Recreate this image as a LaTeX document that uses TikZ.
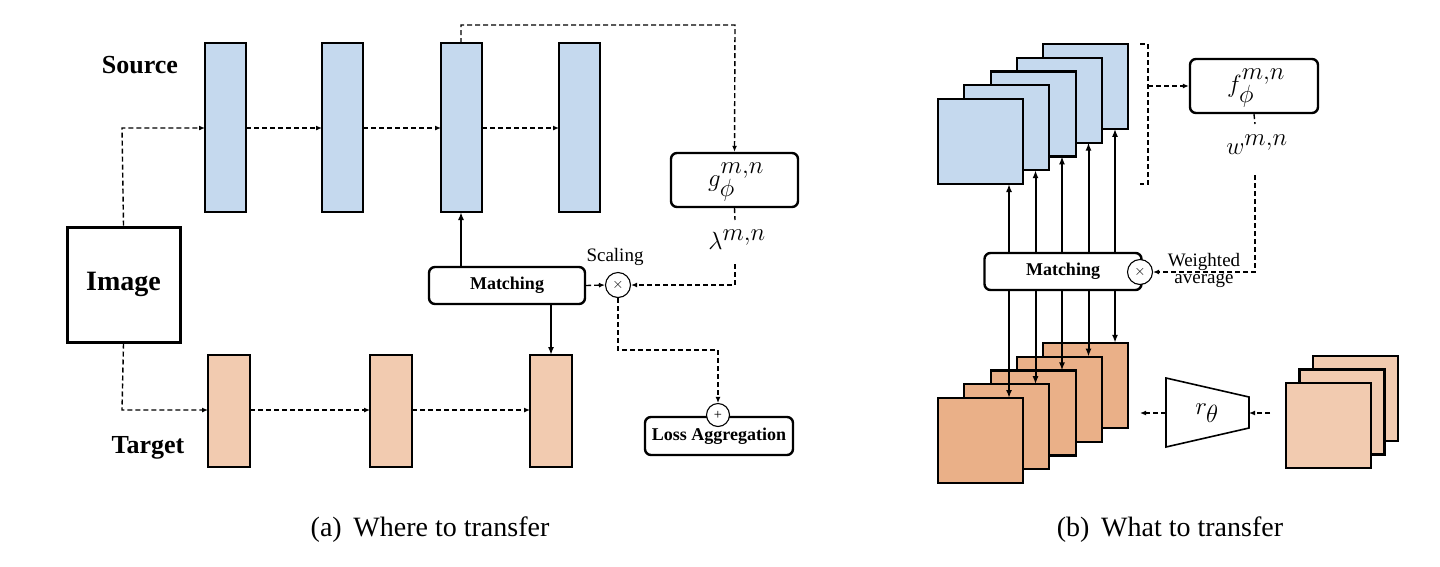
\documentclass[tikz,border=0pt]{standalone}
\usepackage{fontspec}
\setmainfont{Liberation Serif}
\usetikzlibrary{arrows.meta}
\definecolor{blu}{HTML}{C5D9EE}
\definecolor{ltor}{HTML}{F2CBB0}
\definecolor{dkor}{HTML}{EAB088}
\begin{document}
\begin{tikzpicture}[x=1pt,y=-1pt,
  bar/.style={draw,line width=2.2pt,inner sep=0},
  dsh/.style={dash pattern=on 5pt off 3pt,line width=1.4pt,-{Latex[length=6pt,width=5pt]}},
  dshn/.style={dash pattern=on 5pt off 3pt,line width=1.4pt},
  sol/.style={line width=2pt,-{Latex[length=8pt,width=6pt]}},
  rbox/.style={draw,line width=2.4pt,rounded corners=6pt,fill=white},
  circ/.style={draw,circle,line width=1.1pt,fill=white,inner sep=0,minimum size=25pt}]
\useasboundingbox (0,0) rectangle (1440,566);
\foreach \i/\x in {1/205,2/322,3/441,4/559}{
  \draw[bar,fill=blu] (\x,43) rectangle ++(41,169);
  \coordinate (s\i l) at (\x,128); \coordinate (s\i r) at (\x+41,128);}
\foreach \i/\x in {1/208,2/370,3/530}{
  \draw[bar,fill=ltor] (\x,355) rectangle ++(42,112);
  \coordinate (t\i l) at (\x,410); \coordinate (t\i r) at (\x+42,410);}
\node[draw,line width=3pt,minimum width=113pt,minimum height=115pt,font=\bfseries\fontsize{28}{30}\selectfont] (img) at (123.5,284.5) {Image};
\node[font=\bfseries\fontsize{26}{28}\selectfont] (src) at (140,65) {Source};
\node[font=\bfseries\fontsize{26}{28}\selectfont] (tgt) at (148,448) {Target};
\draw[dsh] (img.north) -- (122,128) -- (s1l);
\draw[dsh] (s1r) -- (s2l); \draw[dsh] (s2r) -- (s3l); \draw[dsh] (s3r) -- (s4l);
\draw[dsh] (img.south) -- (122,410) -- (t1l);
\draw[dsh] (t1r) -- (t2l); \draw[dsh] (t2r) -- (t3l);
\node[rbox,minimum width=127pt,minimum height=54pt] (g) at (734.5,180) {};
\node at (736,182) {\fontsize{40}{40}\selectfont$g_\phi^{m,n}$};
\draw[dsh] (461,43) -- (461,25) -- (735,25) -- (g.north);
\node (lam) at (737,240) {\fontsize{38}{38}\selectfont$\lambda^{m,n}$};
\draw[dshn] (g.south) -- (735,220);
\node[rbox,minimum width=156pt,minimum height=37pt,font=\bfseries\fontsize{18}{20}\selectfont] (m1) at (507,285.5) {Matching};
\node[circ] (x1) at (618,285) {\Large$\times$};
\node[font=\fontsize{19}{21}\selectfont] at (615,257) {Scaling};
\draw[dsh] (735,264) -- (735,285) -- (x1.east);
\draw[dsh] (m1.east) -- (x1.west);
\draw[sol] (461,267) -- (461,212);
\draw[sol] (551,304) -- (551,355);
\node[rbox,minimum width=148pt,minimum height=38pt,font=\bfseries\fontsize{18}{20}\selectfont] (loss) at (719,436) {\raisebox{-4pt}{Loss Aggregation}};
\node[draw,circle,line width=1.1pt,fill=white,inner sep=0,minimum size=23pt,font=\Large] (p1) at (718,415) {+};
\draw[dsh] (x1.south) -- (618,350) -- (718,350) -- (p1.north);
% right
\foreach \k in {4,3,2,1,0}{
  \draw[bar,fill=blu] ({938+26.3*\k},{99-13.8*\k}) rectangle ++(85,85);}
\foreach \k in {4,3,2,1,0}{
  \draw[bar,fill=dkor] ({938+26.3*\k},{398-13.8*\k}) rectangle ++(85,85);}
\foreach \k in {2,1,0}{
  \draw[bar,fill=ltor] ({1286+13.5*\k},{383-13.5*\k}) rectangle ++(85,85);}
\node[rbox,minimum width=157pt,minimum height=37pt,font=\bfseries\fontsize{18}{20}\selectfont] (m2) at (1063,271.5) {Matching};
\node[circ] (x2) at (1140,272) {\Large$\times$};
\foreach \k in {0,...,4}{
  \draw[sol] ({1009+26.5*\k},253) -- ({1009+26.5*\k},{184-13.8*\k});
  \draw[sol] ({1009+26.5*\k},290) -- ({1009+26.5*\k},{398-13.8*\k});}
\draw[dshn] (1140,44) -- (1148,44) -- (1148,184) -- (1140,184);
\node[rbox,minimum width=128pt,minimum height=54pt] (f) at (1254,86) {};
\node at (1256,88) {\fontsize{40}{40}\selectfont$f_\phi^{m,n}$};
\draw[dsh] (1148,86) -- (f.west);
\node (w) at (1257,145) {\fontsize{38}{38}\selectfont$w^{m,n}$};
\draw[dshn] (f.south) -- (1255,124);
\draw[dsh] (1255,175) -- (1255,272) -- (x2.east);
\node[font=\fontsize{19}{21}\selectfont,align=center] at (1204,270) {Weighted\\[-4pt]average};
\draw[line width=1.6pt,fill=white] (1166,378) -- (1249,397) -- (1249,428) -- (1166,447) -- cycle;
\node (r) at (1207,413) {\fontsize{38}{38}\selectfont$r_\theta$};
\coordinate (rl) at (1166,413); \coordinate (rr) at (1249,413);
\draw[dsh] (1270,413) -- (rr);
\draw[dsh] (rl) -- (1140,413);
\node[font=\fontsize{28}{30}\selectfont] at (430,530) {(a)\, Where to transfer};
\node[font=\fontsize{28}{30}\selectfont] at (1170,530) {(b)\, What to transfer};
\end{tikzpicture}
\end{document}
